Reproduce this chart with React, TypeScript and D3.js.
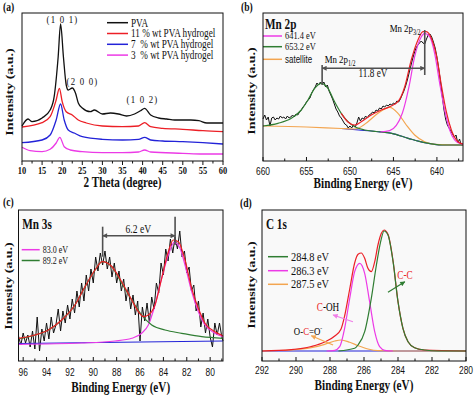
import * as d3 from "d3";

type Pt = [number, number];

const SERIF = "'Liberation Serif', 'Times New Roman', serif";
const SANS = "'Liberation Sans', Arial, sans-serif";
const SQ = 0.8; // the figure is squeezed sideways a bit

const BLACK = "#111111";
const RED = "#ec1f26";
const BLUE = "#2323d8";
const MAGENTA = "#ec3ae6";
const GREEN = "#2f7d32";
const ORANGE = "#f3a550";
const GRAY = "#505050";

// ---------- (a) XRD ----------
const thetaMajor = [10, 15, 20, 25, 30, 35, 40, 45, 50, 55, 60];
const thetaMinor = [12.5, 17.5, 22.5, 27.5, 32.5, 37.5, 42.5, 47.5, 52.5, 57.5];
const pvaXrd: Pt[] = [
  [10, 35], [11.5, 42], [12.5, 39.3], [15, 43], [17, 51], [18, 64.3], [19, 104.3], [19.6, 137],
  [20.3, 104.3], [21, 76], [21.5, 71], [22.5, 73], [23.3, 68], [24, 58], [25, 53], [27, 49.3],
  [28, 51], [30, 47], [32, 48], [34, 47], [36, 45], [38, 47], [39.5, 50.3], [40.5, 52.7],
  [42, 46], [44, 43], [46, 42], [48, 41], [50, 41], [52, 41], [54, 40.3], [56, 38], [60, 38],
];
const gel11Xrd: Pt[] = [
  [10, 34], [15, 38.3], [17, 44.3], [18.5, 61], [19.3, 72.7], [20, 59.3], [21, 49.3], [22.5, 46],
  [24, 41], [26, 38], [30, 35], [35, 34.3], [39, 35], [40.5, 38.3], [42, 34.3], [45, 32.7],
  [50, 31.7], [55, 30.3], [60, 29.3],
];
const gel7Xrd: Pt[] = [
  [10, 18.3], [15, 21], [17, 26], [18.5, 41], [19.6, 57], [20.5, 41], [21.5, 31], [23, 28],
  [25, 24.3], [30, 21.7], [35, 21], [39, 21.7], [40.5, 23.7], [42, 21], [45, 20], [50, 19.3],
  [55, 18.3], [60, 17],
];
const gel3Xrd: Pt[] = [
  [10, 13.7], [12, 10.3], [15, 9.3], [17, 11.7], [18.5, 18], [19.4, 23.7], [20.5, 14.3], [22, 11],
  [25, 9.3], [30, 8.3], [35, 8.3], [39, 9], [40.5, 11], [42, 9], [50, 7.7], [55, 7], [60, 7],
];
const xrdNames = ["PVA", "11 % wt PVA hydrogel", "7  % wt PVA hydrogel", "3  % wt PVA hydrogel"];

// ---------- (b) Mn 2p ----------
const mn2pMajor = [660, 655, 650, 645, 640];
const mn2pMinor = [657.5, 652.5, 647.5, 642.5, 637.5];
const mn2pRaw: Pt[] = [
  [660.0, 42], [659.8, 46], [659.6, 41], [659.4, 44], [659.2, 35], [659.0, 43], [658.8, 44], [658.6, 41],
  [658.4, 43], [658.2, 42], [658.0, 45], [657.8, 43], [657.6, 44], [657.4, 42], [657.2, 45], [657.0, 43],
  [656.8, 44], [656.6, 46], [656.4, 44], [656.2, 47], [656.0, 46], [655.8, 49], [655.6, 51], [655.4, 54],
  [655.2, 56], [655.0, 59], [654.8, 61], [654.6, 63], [654.4, 68], [654.2, 71], [654.0, 74], [653.8, 78],
  [653.6, 76], [653.4, 79], [653.2, 77], [653.0, 79], [652.8, 74], [652.6, 76], [652.4, 70], [652.2, 66],
  [652.0, 62], [651.8, 57], [651.6, 52], [651.4, 49], [651.2, 45], [651.0, 43], [650.8, 40], [650.6, 37],
  [650.4, 36], [650.2, 33], [650.0, 35], [649.8, 33], [649.6, 36], [649.4, 34], [649.2, 38], [649.0, 44],
  [648.8, 40], [648.6, 43], [648.4, 42], [648.2, 45], [648.0, 43], [647.8, 46], [647.6, 47], [647.4, 49],
  [647.2, 48], [647.0, 51], [646.8, 50], [646.6, 53], [646.4, 52], [646.2, 55], [646.0, 54], [645.8, 56],
  [645.6, 55], [645.4, 57], [645.2, 56], [645.0, 58], [644.8, 57], [644.6, 60], [644.4, 59], [644.2, 62],
  [644.0, 66], [643.8, 70], [643.6, 75], [643.4, 81], [643.2, 88], [643.0, 95], [642.8, 102], [642.6, 108],
  [642.4, 113], [642.2, 116], [642.0, 118], [641.8, 120], [641.6, 118], [641.4, 117], [641.2, 122], [641.0, 126],
  [640.8, 127], [640.6, 124], [640.4, 119], [640.2, 113], [640.0, 104], [639.8, 93], [639.6, 80], [639.4, 66],
  [639.2, 52], [639.0, 42], [638.8, 36], [638.6, 33], [638.4, 30], [638.2, 27], [638.0, 24], [637.8, 26],
  [637.6, 18], [637.4, 22], [637.2, 16], [637.0, 17],
];
const mn2pBase: Pt[] = [
  [651, 32.5], [649, 31], [647, 29.5], [645.2, 27.7], [643.3, 22.7], [641.4, 18.3], [639.4, 16], [637, 16],
];
const mn2pGreen: Pt[] = [
  [660, 35], [658.28, 37.7], [656.74, 42.7], [655.6, 51], [654.83, 61], [654.06, 72.7], [653.3, 77.7],
  [652.53, 72.7], [651.77, 59.3], [651, 47.7], [650.23, 39.3], [649.46, 34.3], [648.31, 31],
  [647, 29.5], [645.2, 27.7], [643.3, 22.7], [641.4, 18.3], [639.4, 16], [637, 16],
];
const mn2pOrange: Pt[] = [
  [660, 35], [655, 34], [651, 32.5], [649.5, 32], [649.08, 32.7], [647.93, 39.3], [646.78, 47.7],
  [645.43, 53.7], [644.48, 47.7], [643.52, 36], [642.56, 26], [641.41, 19.3], [640.26, 16.7], [637, 16],
];
const mn2pMagenta: Pt[] = [
  [646.5, 29], [645.43, 30.3], [643.98, 47.7], [643.21, 74.3], [642.56, 104.3], [641.79, 124.3],
  [641.41, 127.7], [640.83, 124.3], [640.26, 107.7], [639.68, 77.7], [639.11, 51], [638.53, 31],
  [637.96, 21], [637.38, 17.7], [637, 17],
];
const mn2pFit: Pt[] = [
  [651, 47.7], [650.23, 39], [649.46, 36], [648.7, 39.3], [647.55, 46], [646.4, 51], [645.43, 54.3],
  [644.48, 59.3], [643.7, 74.3], [642.95, 101], [642.18, 121], [641.6, 129.3], [641.22, 129.3],
  [640.64, 122.7], [640.07, 106], [639.49, 76], [638.92, 49.3], [638.34, 31], [637.57, 19.3], [637, 17],
];

// ---------- (c) Mn 3s ----------
const mn3sMajor = [96, 94, 92, 90, 88, 86, 84, 82, 80];
const mn3sMinor = [95, 93, 91, 89, 87, 85, 83, 81, 79];
const mn3sRaw: Pt[] = [
  [96.4, 25], [96.2, 16], [96.0, 28], [95.8, 18], [95.6, 26], [95.4, 14], [95.2, 30], [95.0, 12],
  [94.8, 44], [94.6, 10], [94.4, 32], [94.2, 20], [94.0, 38], [93.8, 22], [93.6, 44], [93.4, 28],
  [93.2, 36], [93.0, 52], [92.8, 30], [92.6, 50], [92.4, 38], [92.2, 56], [92.0, 42], [91.8, 62],
  [91.6, 48], [91.4, 70], [91.2, 54], [91.0, 78], [90.8, 60], [90.6, 86], [90.4, 70], [90.2, 92],
  [90.0, 78], [89.8, 104], [89.6, 90], [89.4, 108], [89.2, 96], [89.0, 110], [88.8, 92], [88.6, 104],
  [88.4, 84], [88.2, 98], [88.0, 78], [87.8, 90], [87.6, 70], [87.4, 82], [87.2, 60], [87.0, 74],
  [86.8, 52], [86.6, 66], [86.4, 46], [86.2, 60], [86.0, 20], [85.8, 54], [85.6, 40], [85.4, 58],
  [85.2, 38], [85.0, 64], [84.8, 52], [84.6, 78], [84.4, 68], [84.2, 98], [84.0, 86], [83.8, 112],
  [83.6, 100], [83.4, 122], [83.2, 108], [83.0, 124], [82.8, 112], [82.6, 130], [82.4, 104], [82.2, 110],
  [82.0, 88], [81.8, 94], [81.6, 70], [81.4, 76], [81.2, 50], [81.0, 60], [80.8, 34], [80.6, 48],
  [80.4, 28], [80.2, 42], [80.0, 24], [79.8, 14], [79.6, 38], [79.4, 26], [79.2, 38], [79.0, 24], [78.9, 20],
];
const mn3sBase: Pt[] = [[96.4, 17.5], [78.9, 20]];
const mn3sGreen: Pt[] = [
  [96.4, 22], [94.99, 26], [93.85, 31], [92.7, 41], [91.57, 56], [90.71, 74.3], [89.85, 91], [89.23, 99.3],
  [88.42, 94.3], [87.57, 77.7], [86.71, 61], [85.86, 46], [85, 36], [83.86, 31], [82.43, 27.7],
  [80.72, 24.3], [78.9, 22.7],
];
const mn3sMagenta: Pt[] = [
  [96.4, 16.7], [91, 18], [88.14, 20], [86.71, 22.7], [85.86, 27.7], [85.29, 36], [84.72, 56],
  [84.15, 82.7], [83.58, 106], [83.07, 118.7], [82.58, 112.7], [82.15, 96], [81.58, 69.3], [81.01, 49.3],
  [80.44, 36], [79.59, 27.7], [78.9, 24.3],
];
const mn3sFit: Pt[] = [
  [96.4, 22.7], [94.99, 26], [93.85, 31], [92.7, 41], [91.57, 56], [90.71, 74.3], [89.85, 91], [89.23, 99.3],
  [88.42, 94.5], [87.57, 79.3], [86.71, 61], [86.14, 49.3], [85.71, 44.3], [85.29, 46], [84.72, 56],
  [84.15, 82.7], [83.58, 109.3], [83.15, 121], [82.72, 119.3], [82.15, 101], [81.58, 72.7], [81.01, 52.7],
  [80.44, 37.7], [79.59, 29.3], [78.9, 25.3],
];

// ---------- (d) C 1s ----------
const c1sMajor = [292, 290, 288, 286, 284, 282, 280];
const c1sMinor = [291, 289, 287, 285, 283, 281];
const c1sBase: Pt[] = [[292, 10], [280, 10]];
const c1sGreen: Pt[] = [
  [287.5, 10], [286.55, 12.7], [286.35, 16], [285.96, 29.3], [285.57, 62.7], [285.27, 96], [285.02, 119.3],
  [284.82, 130], [284.59, 126], [284.29, 99.3], [284, 59.3], [283.71, 32.7], [283.41, 19.3], [283.02, 13.3],
  [282.43, 11], [281.65, 10], [280, 10],
];
const c1sMagenta: Pt[] = [
  [288.2, 10], [287.72, 10.7], [287.43, 14.3], [287.14, 32.7], [286.84, 62.7], [286.55, 89.3], [286.25, 97.7],
  [285.96, 87.7], [285.67, 59.3], [285.37, 29.3], [285.08, 14.3], [284.78, 10.7], [284.3, 10],
];
const c1sOrange: Pt[] = [
  [292, 10], [290.28, 11], [289.1, 13.3], [288.31, 16.7], [287.72, 20], [287.35, 21], [286.84, 18.7],
  [286.35, 15.3], [285.77, 12], [285.18, 10.3], [284, 10], [280, 10],
];
const c1sFit: Pt[] = [
  [292, 10], [290.28, 11.3], [289.1, 14.5], [288.31, 19], [287.72, 25], [287.35, 32], [287.14, 45],
  [286.84, 72], [286.55, 98], [286.35, 106.7], [286.16, 108], [285.96, 102.7], [285.77, 92.7], [285.57, 89.3],
  [285.37, 99.3], [285.18, 116], [284.98, 127.7], [284.82, 131], [284.59, 126.7], [284.29, 100], [284, 59.3],
  [283.71, 32.7], [283.41, 19.3], [283.02, 13.3], [282.43, 11], [280, 10],
];

// ---------- helpers ----------
function T({ x, y, size, anchor = "start", bold = false, family = SERIF, fill = BLACK, rot = false, ls, children }: any) {
  const tf = rot
    ? `translate(${x},${y}) rotate(-90) scale(1,${SQ})`
    : `translate(${x},${y}) scale(${SQ},1)`;
  return (
    <text
      transform={tf}
      fontSize={size}
      fontFamily={family}
      fontWeight={bold ? "bold" : "normal"}
      textAnchor={anchor}
      dominantBaseline="central"
      fill={fill}
      letterSpacing={ls}
      style={{ whiteSpace: "pre" }}
    >
      {children}
    </text>
  );
}

function Curve({ pts, x, y, color, w = 1.2, smooth = true }: any) {
  const gen = d3
    .line<Pt>()
    .x((d) => x(d[0]))
    .y((d) => y(d[1]))
    .curve(smooth ? d3.curveMonotoneX : d3.curveLinear);
  return <path d={gen(pts) || ""} fill="none" stroke={color} strokeWidth={w} strokeLinejoin="round" />;
}

function Panel({ x, y, major, minor, inward, tickFamily, tickBold, tickSize, tickY, title, titleY, yTitleX, yTitleY, bg, tag, tagX, tagY, children }: any) {
  const [x0, x1] = x.range();
  const [y0, y1] = y.range();
  const dir = inward ? -1 : 1;
  return (
    <g>
      <rect x={x0} y={y1} width={x1 - x0} height={y0 - y1} fill={bg} />
      {children}
      <rect x={x0} y={y1} width={x1 - x0} height={y0 - y1} fill="none" stroke={BLACK} strokeWidth={1} />
      {major.map((v: number) => (
        <line key={"M" + v} x1={x(v)} x2={x(v)} y1={y0} y2={y0 + dir * 4} stroke={BLACK} />
      ))}
      {minor.map((v: number) => (
        <line key={"m" + v} x1={x(v)} x2={x(v)} y1={y0} y2={y0 + dir * 2.5} stroke={BLACK} />
      ))}
      {major.map((v: number) => (
        <T key={"L" + v} x={x(v)} y={tickY} size={tickSize} family={tickFamily} bold={tickBold} anchor="middle">
          {String(v)}
        </T>
      ))}
      <T x={(x0 + x1) / 2} y={titleY} size={14} bold anchor="middle">{title}</T>
      <T x={yTitleX} y={yTitleY} size={14} bold rot anchor="middle">Intensity (a.u.)</T>
      <T x={tagX} y={tagY} size={12} bold>{tag}</T>
    </g>
  );
}

function LegendRow({ x, y, len, color, label, size, family = SERIF, gap = 3 }: any) {
  return (
    <g>
      <line x1={x} x2={x + len} y1={y} y2={y} stroke={color} strokeWidth={1.5} />
      <T x={x + len + gap} y={y} size={size} family={family}>{label}</T>
    </g>
  );
}

export default function App() {
  // (a)
  const xa = d3.scaleLinear().domain([10, 60]).range([22, 223]);
  const ya = d3.scaleLinear().domain([0, 148]).range([161, 13]);
  const xrdSeries = [pvaXrd, gel11Xrd, gel7Xrd, gel3Xrd];
  const xrdColors = [BLACK, RED, BLUE, MAGENTA];

  // (b)
  const xb = d3.scaleLinear().domain([660, 637]).range([263, 463]);
  const yb = d3.scaleLinear().domain([0, 148]).range([161, 13]);

  // (c)
  const xc = d3.scaleLinear().domain([96.4, 78.9]).range([18.5, 223]);
  const yc = d3.scaleLinear().domain([0, 151]).range([361, 210]);

  // (d)
  const xd = d3.scaleLinear().domain([292, 280]).range([262, 466]);
  const yd = d3.scaleLinear().domain([0, 151]).range([361, 210]);

  return (
    <svg width={474} height={395} style={{ position: "absolute", left: 0, top: 0, background: "#fff" }}>
      <defs>
        {[["arGray", GRAY], ["arGreen", GREEN], ["arPink", "#f07ee8"], ["arOrange", ORANGE]].map(([id, c]) => (
          <marker key={id} id={id} viewBox="0 0 10 10" refX="9" refY="5" markerUnits="userSpaceOnUse"
            markerWidth="6" markerHeight="5" orient="auto-start-reverse">
            <path d="M0,0 L10,5 L0,10 z" fill={c} />
          </marker>
        ))}
      </defs>

      {/* (a) */}
      <Panel x={xa} y={ya} major={thetaMajor} minor={thetaMinor} inward={false}
        tickFamily={SERIF} tickBold tickSize={10.5} tickY={171}
        title="2 Theta (degree)" titleY={183} yTitleX={9.5} yTitleY={92} bg="#ffffff"
        tag="(a)" tagX={3} tagY={6.5}>
        {xrdSeries.map((s, i) => (
          <Curve key={i} pts={s} x={xa} y={ya} color={xrdColors[i]} w={1.3} />
        ))}
        <T x={62.5} y={19} size={11} anchor="middle" ls={1.5}>(1 0 1)</T>
        <T x={82.5} y={80.7} size={11} anchor="middle" ls={1.5}>(2 0 0)</T>
        <T x={142.5} y={99.3} size={11} anchor="middle" ls={1.5}>(1 0 2)</T>
        {xrdNames.map((n, i) => (
          <LegendRow key={n} x={107} y={22.7 + i * 10.8} len={21} color={xrdColors[i]} label={n} size={11.5} />
        ))}
      </Panel>

      {/* (b) */}
      <Panel x={xb} y={yb} major={mn2pMajor} minor={mn2pMinor} inward
        tickFamily={SANS} tickSize={10.5} tickY={171}
        title="Binding Energy (eV)" titleY={184} yTitleX={251.5} yTitleY={91} bg="#f9f9f9"
        tag="(b)" tagX={241} tagY={7}>
        <Curve pts={mn2pRaw} x={xb} y={yb} color={BLACK} w={1} smooth={false} />
        <Curve pts={mn2pBase} x={xb} y={yb} color={BLUE} />
        <Curve pts={mn2pOrange} x={xb} y={yb} color={ORANGE} />
        <Curve pts={mn2pGreen} x={xb} y={yb} color={GREEN} />
        <Curve pts={mn2pMagenta} x={xb} y={yb} color={MAGENTA} />
        <Curve pts={mn2pFit} x={xb} y={yb} color={RED} />
        <line x1={xb(653.2)} x2={xb(653.2)} y1={yb(96)} y2={yb(76)} stroke={GRAY} strokeWidth={1.6} />
        <line x1={xb(641.4)} x2={xb(641.4)} y1={yb(131)} y2={yb(86)} stroke={GRAY} strokeWidth={1.6} />
        <line x1={xb(653.2)} x2={xb(641.4)} y1={yb(92.7)} y2={yb(92.7)} stroke={GRAY} strokeWidth={1.6}
          markerStart="url(#arGray)" markerEnd="url(#arGray)" />
        <T x={373} y={73.5} size={11.5} anchor="middle">11.8 eV</T>
        <text transform={`translate(324.7,59.3) scale(${SQ},1)`} fontFamily={SERIF} fontSize={11} dominantBaseline="central">
          Mn 2p<tspan fontSize={7.5} dy={3}>1/2</tspan>
        </text>
        <text transform={`translate(389.7,28.3) scale(${SQ},1)`} fontFamily={SERIF} fontSize={11} dominantBaseline="central">
          Mn 2p<tspan fontSize={7.5} dy={3}>3/2</tspan>
        </text>
        <T x={265} y={25} size={14} bold>Mn 2p</T>
        <LegendRow x={263} y={36} len={19} color={MAGENTA} label="641.4 eV" size={10.5} />
        <LegendRow x={263} y={46.7} len={19} color={GREEN} label="653.2 eV" size={10.5} />
        <LegendRow x={263} y={59.3} len={19} color={ORANGE} label="satellite" size={10} family={SANS} />
      </Panel>

      {/* (c) */}
      <Panel x={xc} y={yc} major={mn3sMajor} minor={mn3sMinor} inward
        tickFamily={SANS} tickSize={10.5} tickY={372.5}
        title="Binding Energy (eV)" titleY={387.5} yTitleX={8.5} yTitleY={286} bg="#f9f9f9"
        tag="(c)" tagX={3} tagY={202}>
        <Curve pts={mn3sRaw} x={xc} y={yc} color={BLACK} w={1} smooth={false} />
        <Curve pts={mn3sBase} x={xc} y={yc} color={BLUE} />
        <Curve pts={mn3sMagenta} x={xc} y={yc} color={MAGENTA} />
        <Curve pts={mn3sGreen} x={xc} y={yc} color={GREEN} />
        <Curve pts={mn3sFit} x={xc} y={yc} color={RED} />
        <line x1={xc(89.2)} x2={xc(89.2)} y1={yc(134.3)} y2={yc(104.3)} stroke={GRAY} strokeWidth={1.6} />
        <line x1={xc(83.0)} x2={xc(83.0)} y1={yc(144.3)} y2={yc(116)} stroke={GRAY} strokeWidth={1.6} />
        <line x1={xc(89.2)} x2={xc(83.0)} y1={yc(125.3)} y2={yc(125.3)} stroke={GRAY} strokeWidth={1.4}
          markerStart="url(#arGray)" markerEnd="url(#arGray)" />
        <T x={138.3} y={228.3} size={12} anchor="middle">6.2 eV</T>
        <T x={22.3} y={224.3} size={14} bold>Mn 3s</T>
        <LegendRow x={21.7} y={249.7} len={18} color={MAGENTA} label="83.0 eV" size={10} />
        <LegendRow x={21.7} y={260.5} len={18} color={GREEN} label="89.2 eV" size={10} />
      </Panel>

      {/* (d) */}
      <Panel x={xd} y={yd} major={c1sMajor} minor={c1sMinor} inward
        tickFamily={SANS} tickSize={10.5} tickY={370}
        title="Binding Energy (eV)" titleY={386} yTitleX={251.5} yTitleY={285} bg="#f9f9f9"
        tag="(d)" tagX={240} tagY={203}>
        <Curve pts={c1sBase} x={xd} y={yd} color={BLUE} />
        <Curve pts={c1sOrange} x={xd} y={yd} color={ORANGE} />
        <Curve pts={c1sMagenta} x={xd} y={yd} color={MAGENTA} />
        <Curve pts={c1sFit} x={xd} y={yd} color={RED} />
        <Curve pts={c1sGreen} x={xd} y={yd} color={GREEN} />
        <line x1={xd(284.59)} y1={yd(68.7)} x2={xd(283.6)} y2={yd(79.3)} stroke={GREEN} strokeWidth={1.2} markerEnd="url(#arGreen)" />
        <line x1={xd(286.65)} y1={yd(39.3)} x2={xd(287.82)} y2={yd(46)} stroke="#f07ee8" strokeWidth={1.2} markerEnd="url(#arPink)" />
        <line x1={xd(287.82)} y1={yd(16)} x2={xd(289.1)} y2={yd(25.3)} stroke={ORANGE} strokeWidth={1.2} markerEnd="url(#arOrange)" />
        <T x={405} y={275} size={11.5} anchor="middle" fill={RED}>C-C</T>
        <text transform={`translate(328,306.7) scale(${SQ},1)`} fontFamily={SERIF} fontSize={11.5} textAnchor="middle" dominantBaseline="central">
          <tspan fill={RED}>C</tspan>-OH
        </text>
        <text transform={`translate(308,330.7) scale(${SQ},1)`} fontFamily={SERIF} fontSize={11} textAnchor="middle" dominantBaseline="central">
          O-<tspan fill={RED}>C</tspan>=O<tspan fontSize={7} dy={-4}>-</tspan>
        </text>
        <T x={266} y={224.3} size={14} bold>C 1s</T>
        <LegendRow x={268} y={256.7} len={20} color={GREEN} label="284.8 eV" size={13} />
        <LegendRow x={268} y={270.7} len={20} color={MAGENTA} label="286.3 eV" size={13} />
        <LegendRow x={268} y={284.3} len={20} color={ORANGE} label="287.5 eV" size={13} />
      </Panel>
    </svg>
  );
}
